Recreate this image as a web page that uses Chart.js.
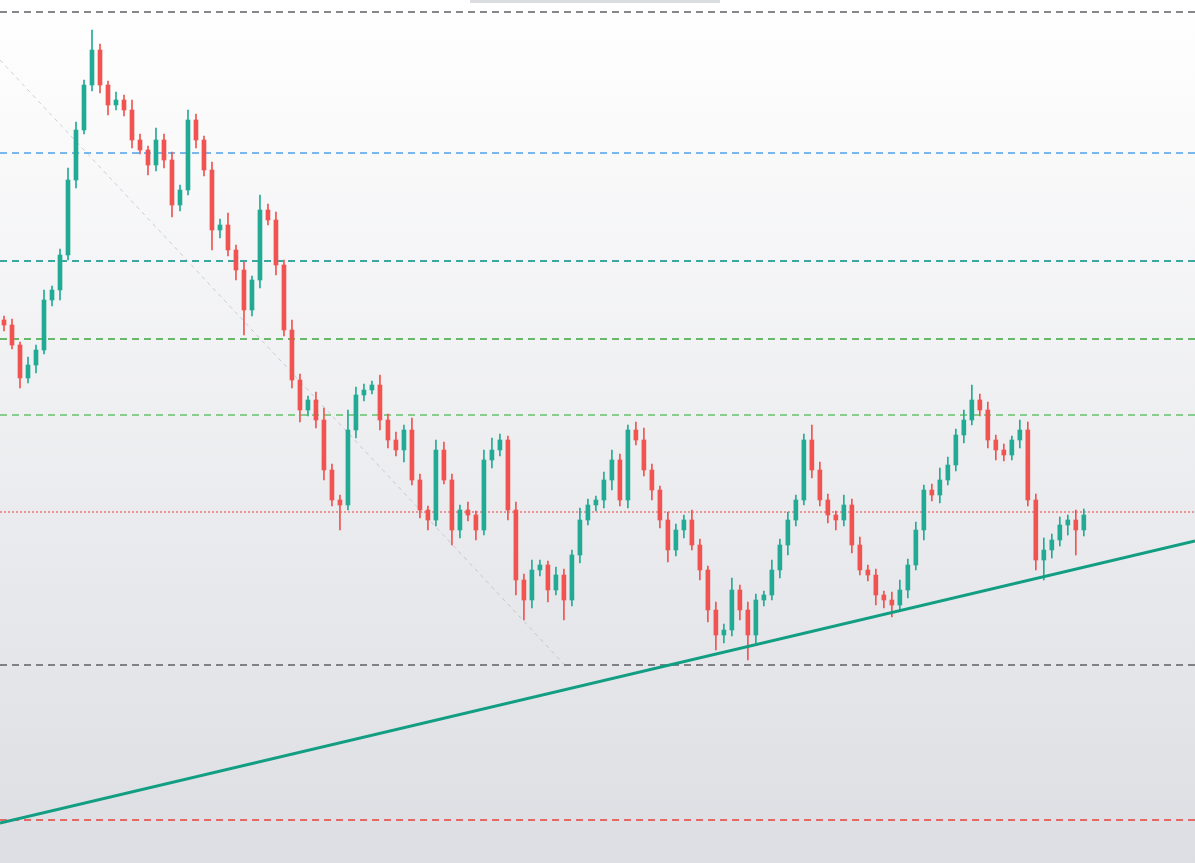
<!DOCTYPE html>
<html>
<head>
<meta charset="utf-8">
<script src="https://cdn.jsdelivr.net/npm/chart.js@4"></script>
<style>
  html, body { margin: 0; padding: 0; overflow: hidden; }
  #wrap { width: 1195px; height: 863px; position: relative; }
</style>
</head>
<body>
<div id="wrap"><canvas id="myChart"></canvas></div>
<script>
// price scale is drawn top-down (reversed)
const closes = [325,345,378,365,350,300,290,255,180,130,85,50,85,105,100,110,140,150,165,140,
  160,205,190,120,140,170,230,225,250,270,310,280,210,220,265,330,380,410,400,420,
  470,500,505,430,395,390,385,420,440,450,430,480,510,520,450,480,530,510,515,530,
  460,450,440,510,580,600,570,565,590,575,600,555,520,505,500,480,460,500,430,440,
  470,490,520,550,530,520,545,570,610,635,630,590,610,635,600,595,570,545,520,500,
  440,470,500,515,520,505,545,570,575,595,600,605,590,565,530,490,495,480,465,435,
  420,400,410,440,450,455,440,430,500,560,550,540,525,520,530,515];
const upperWick = [4,6,3,8,5,10,4,6,12,8,5,20,6,4,8,5,10,6,4,12,6,8,5,10,6,4,8,6,12,5,
  8,4,15,6,8,5,10,6,4,8,12,6,5,20,8,6,4,10,6,8,5,12,6,4,10,8,6,5,8,4,
  10,12,6,4,8,6,10,5,4,8,6,5,12,6,4,8,10,6,5,8,12,6,4,8,6,5,10,6,4,8,
  6,12,5,8,6,4,10,6,8,5,6,15,8,6,4,10,6,8,5,6,4,8,10,6,8,5,6,12,8,6,
  10,15,6,8,5,6,4,10,8,6,12,6,8,5,10,6];
const lowerWick = [6,4,10,5,8,4,6,10,5,8,4,6,8,10,5,6,8,4,10,6,8,12,6,5,8,6,20,8,6,10,
  25,6,8,5,10,6,8,12,6,8,10,6,25,5,8,6,4,10,8,6,12,5,8,10,6,4,15,8,6,10,
  5,8,6,10,15,20,8,6,12,5,20,6,8,5,6,8,10,6,8,5,6,10,8,12,6,8,5,10,12,15,
  8,6,10,25,8,6,5,8,10,6,5,8,6,8,10,6,8,5,6,10,8,12,6,8,5,10,6,8,5,6,
  8,5,6,8,10,6,5,8,6,10,20,8,6,10,25,6];
const levels = [12, 153, 261, 339, 415, 512, 665, 820];
const levelColors = ['#5d6066', '#4ea3e8', '#008f87', '#3aa53a', '#66c26a', '#e8413b', '#5d6066', '#e8413b'];
const trend = [823, 541];

const bodies = [], wicks = [], colors = [];
for (let i = 0; i < closes.length; i++) {
  const o = i === 0 ? 320 : closes[i - 1];
  const c = closes[i];
  const up = c < o; // reversed axis: smaller value = higher
  colors.push(up ? '#22ab94' : '#f05350');
  bodies.push({ x: i, y: [o, c === o ? c + 1 : c] });
  wicks.push({ x: i, y: [Math.min(o, c) - (upperWick[i] ?? 5), Math.max(o, c) + (lowerWick[i] ?? 5)] });
}

const xMin = -0.5, xMax = 148.9;
const datasets = [];
levels.forEach((lv, k) => {
  datasets.push({
    type: 'line', data: [{ x: xMin, y: lv }, { x: xMax, y: lv }],
    borderColor: levelColors[k], borderWidth: k === 5 ? 1 : 1.3,
    borderDash: k === 5 ? [2, 2] : [7, 5], pointRadius: 0, order: 5
  });
});
datasets.push({
  type: 'line', data: [{ x: xMin, y: 60 }, { x: 70.1, y: 665 }],
  borderColor: 'rgba(160,165,175,0.5)', borderWidth: 1, borderDash: [4, 4], pointRadius: 0, order: 6
});
datasets.push({ type: 'bar', data: wicks, backgroundColor: colors, barThickness: 1, grouped: false, order: 3 });
datasets.push({ type: 'bar', data: bodies, backgroundColor: colors, barThickness: 4, grouped: false, order: 2 });
datasets.push({
  type: 'line', data: [{ x: xMin, y: trend[0] }, { x: xMax, y: trend[1] }],
  borderColor: '#129e82', borderWidth: 3, pointRadius: 0, order: 1
});

const bgPlugin = {
  id: 'bg',
  beforeDraw(chart) {
    const ctx = chart.ctx;
    const g = ctx.createLinearGradient(0, 0, 0, chart.height);
    g.addColorStop(0, '#ffffff');
    g.addColorStop(1, '#dddee3');
    ctx.save();
    ctx.fillStyle = g;
    ctx.fillRect(0, 0, chart.width, chart.height);
    ctx.fillStyle = 'rgba(150,155,165,0.35)';
    ctx.fillRect(470, 0, 250, 3);
    ctx.restore();
  }
};

const myChart = new Chart(document.getElementById('myChart'), {
  type: 'bar',
  data: { datasets: datasets },
  options: {
    responsive: true, maintainAspectRatio: false, animation: false,
    layout: { padding: 0 },
    plugins: { legend: { display: false }, tooltip: { enabled: false } },
    scales: {
      x: { type: 'linear', min: xMin, max: xMax, display: false, offset: false },
      y: { min: 0, max: 863, reverse: true, display: false }
    }
  },
  plugins: [bgPlugin]
});
</script>
</body>
</html>
